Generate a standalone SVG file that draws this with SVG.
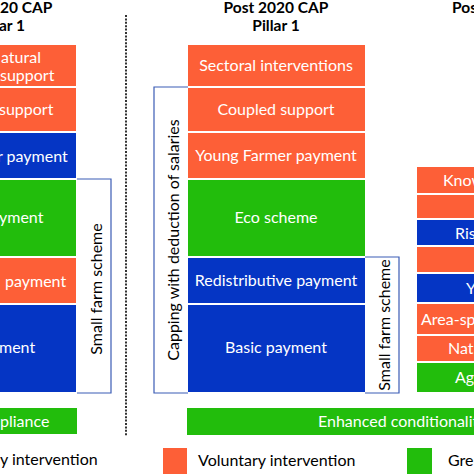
<svg xmlns="http://www.w3.org/2000/svg" width="474" height="474" viewBox="0 0 474 474">
<style>
.o{fill:#fd5f37}
.b{fill:#0535c4}
.g{fill:#22bd0c}
.t{font-family:Lato,"Liberation Sans",sans-serif;font-size:16px;fill:#ffffff}
.c{text-anchor:middle}
.h{font-family:Lato,"Liberation Sans",sans-serif;font-size:15.5px;font-weight:bold;fill:#000}
.k{font-family:Lato,"Liberation Sans",sans-serif;font-size:16px;fill:#000}
.br{fill:#fff;stroke:#3b5cb5;stroke-width:1.2}
</style>
<rect width="474" height="474" fill="#fff"/>
<g id="titles">
<text class="h" x="0" y="13">20 CAP</text>
<text class="h" x="-1" y="31">ar 1</text>
<text class="h c" x="276" y="13">Post 2020 CAP</text>
<text class="h c" x="276" y="31">Pillar 1</text>
<text class="h" x="452" y="13">Pos</text>
</g>
<g id="divider"><line x1="126" y1="15" x2="126" y2="436" stroke="#000" stroke-width="1.6" stroke-dasharray="2 1.4"/></g>
<g id="connectors">
<path class="br" d="M77,179 H111 V393 H77"/>
<path class="br" d="M188,87 H154 V393 H188"/>
<path class="br" d="M365,257 H399 V393 H365"/>
</g>
<g id="left-col">
<g id="l1"><rect class="o" x="-5" y="45" width="81" height="41"/><text class="t" x="1" y="63">atural</text><text class="t" x="0" y="81">support</text></g>
<g id="l2"><rect class="o" x="-5" y="88" width="81" height="43"/><text class="t" x="-1" y="115">support</text></g>
<g id="l3"><rect class="b" x="-5" y="133" width="81" height="45"/><text class="t" x="-3" y="162">r payment</text></g>
<g id="l4"><rect class="g" x="-5" y="180" width="81" height="76"/><text class="t" x="-1" y="223">yment</text></g>
<g id="l5"><rect class="o" x="-5" y="258" width="81" height="45"/><text class="t" x="5" y="287">payment</text></g>
<g id="l6"><rect class="b" x="-5" y="305" width="81" height="87"/><text class="t" x="-1" y="353">ment</text></g>
<g id="l-sfs"><text class="k c" transform="translate(95,289) rotate(-90)" dominant-baseline="central">Small farm scheme</text></g>
<g id="l-comp"><rect class="g" x="-5" y="408" width="82" height="26"/><text class="t" x="0" y="427">pliance</text></g>
</g>
<g id="mid-col">
<g id="m1"><rect class="o" x="188" y="45" width="177" height="41"/><text class="t c" x="276" y="71">Sectoral interventions</text></g>
<g id="m2"><rect class="o" x="188" y="88" width="177" height="43"/><text class="t c" x="276" y="115">Coupled support</text></g>
<g id="m3"><rect class="o" x="188" y="133" width="177" height="45"/><text class="t c" x="276" y="161">Young Farmer payment</text></g>
<g id="m4"><rect class="g" x="188" y="180" width="177" height="76"/><text class="t c" x="276" y="223">Eco scheme</text></g>
<g id="m5"><rect class="b" x="188" y="258" width="177" height="45"/><text class="t c" x="276" y="286">Redistributive payment</text></g>
<g id="m6"><rect class="b" x="188" y="305" width="177" height="87"/><text class="t c" x="276" y="353">Basic payment</text></g>
<g id="capping"><text class="k c" transform="translate(172,240) rotate(-90)" dominant-baseline="central">Capping with deduction of salaries</text></g>
<g id="m-sfs"><text class="k c" transform="translate(383,325) rotate(-90)" dominant-baseline="central">Small farm scheme</text></g>
<g id="m-cond"><rect class="g" x="187" y="408" width="300" height="27"/><text class="t" x="318" y="427">Enhanced conditionalit</text></g>
</g>
<g id="right-col">
<g id="r1"><rect class="o" x="417" y="167" width="70" height="26"/><text class="t" x="443" y="186">Know</text></g>
<g id="r2"><rect class="o" x="417" y="195" width="70" height="23"/></g>
<g id="r3"><rect class="b" x="417" y="220" width="70" height="25"/><text class="t" x="455" y="239">Ris</text></g>
<g id="r4"><rect class="o" x="417" y="247" width="70" height="25"/></g>
<g id="r5"><rect class="b" x="417" y="274" width="70" height="28"/><text class="t" x="466" y="294">Y</text></g>
<g id="r6"><rect class="o" x="417" y="304" width="70" height="30"/><text class="t" x="421" y="325">Area-sp</text></g>
<g id="r7"><rect class="o" x="417" y="336" width="70" height="25"/><text class="t" x="448" y="354">Nat</text></g>
<g id="r8"><rect class="g" x="417" y="363" width="70" height="29"/><text class="t" x="455" y="383">Ag</text></g>
</g>
<g id="legend">
<text class="k" x="0" y="465">y intervention</text>
<rect class="o" x="163" y="448" width="24" height="30"/>
<text class="k" x="198" y="466">Voluntary intervention</text>
<rect class="g" x="407" y="448" width="25" height="30"/>
<text class="k" x="448" y="466">Gre</text>
</g>
</svg>
